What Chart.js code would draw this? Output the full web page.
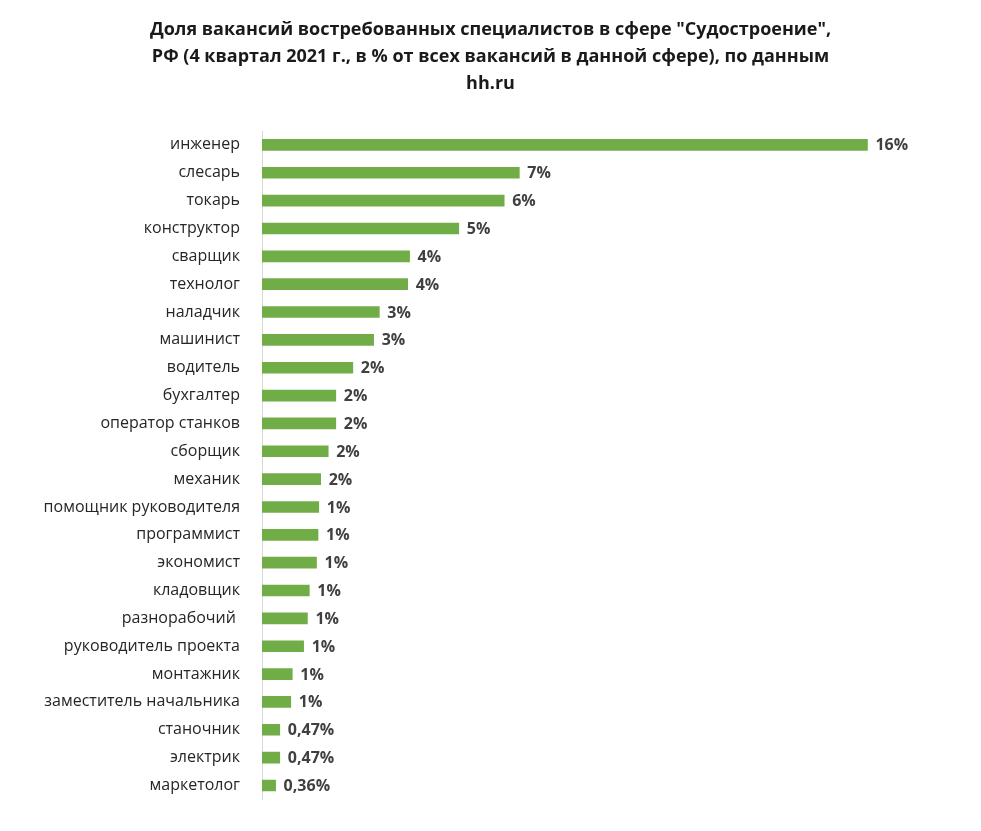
<!DOCTYPE html>
<html>
<head>
<meta charset="utf-8">
<script src="https://cdn.jsdelivr.net/npm/chart.js@4"></script>
<style>
  body { margin: 0; background: #fff; }
  #wrap { width: 981px; height: 831px; position: relative; }
</style>
</head>
<body>
<div id="wrap"><canvas id="grafico"></canvas></div>
<script>
// Профессии
const categorias = ["инженер", "слесарь", "токарь", "конструктор", "сварщик", "технолог", "наладчик", "машинист", "водитель", "бухгалтер", "оператор станков", "сборщик", "механик", "помощник руководителя", "программист", "экономист", "кладовщик", "разнорабочий ", "руководитель проекта", "монтажник", "заместитель начальника", "станочник", "электрик", "маркетолог"];
// Доли вакансий, % (по длине столбцов)
const valores = [16, 6.8, 6.4, 5.2, 3.9, 3.85, 3.1, 2.95, 2.4, 1.95, 1.95, 1.75, 1.55, 1.5, 1.48, 1.44, 1.25, 1.2, 1.1, 0.8, 0.76, 0.47, 0.47, 0.36];
// Подписи значений
const etiquetas = ["16%", "7%", "6%", "5%", "4%", "4%", "3%", "3%", "2%", "2%", "2%", "2%", "2%", "1%", "1%", "1%", "1%", "1%", "1%", "1%", "1%", "0,47%", "0,47%", "0,36%"];

const fuente = "'Open Sans', 'Liberation Sans', sans-serif";

// Подписи значений справа от столбцов
const pluginEtiquetas = {
    id: 'etiquetas',
    afterDatasetsDraw(chart) {
        const ctx = chart.ctx;
        const meta = chart.getDatasetMeta(0);
        ctx.save();
        ctx.font = "bold 16px " + fuente;
        ctx.fillStyle = "#404040";
        ctx.textBaseline = "middle";
        meta.data.forEach((bar, i) => {
            ctx.fillText(etiquetas[i], bar.x + 8, bar.y + 1);
        });
        ctx.restore();
    }
};

new Chart(document.getElementById('grafico'), {
    type: 'bar',
    data: {
        labels: categorias,
        datasets: [{
            data: valores,
            backgroundColor: '#70ad47',
            barThickness: 11
        }]
    },
    options: {
        indexAxis: 'y',
        responsive: true,
        maintainAspectRatio: false,
        animation: false,
        layout: { padding: { top: 0, right: 0, bottom: 8, left: 0 } },
        plugins: {
            legend: { display: false },
            tooltip: { enabled: false },
            title: {
                display: true,
                text: ['Доля вакансий востребованных специалистов в сфере "Судостроение",', 'РФ (4 квартал 2021 г., в % от всех вакансий в данной сфере), по данным', 'hh.ru'],
                color: '#1a1a1a',
                font: { family: fuente, size: 18, weight: 'bold', lineHeight: 1.5 },
                padding: { top: 16, bottom: 34 }
            }
        },
        scales: {
            x: {
                min: 0,
                max: 19,
                display: false
            },
            y: {
                afterFit: s => { s.width = 262; },
                grid: { display: false, drawTicks: false },
                border: { color: '#d9d9d9', width: 1 },
                ticks: {
                    color: '#262626',
                    padding: 22,
                    font: { family: fuente, size: 16 }
                }
            }
        }
    },
    plugins: [pluginEtiquetas]
});
</script>
</body>
</html>
